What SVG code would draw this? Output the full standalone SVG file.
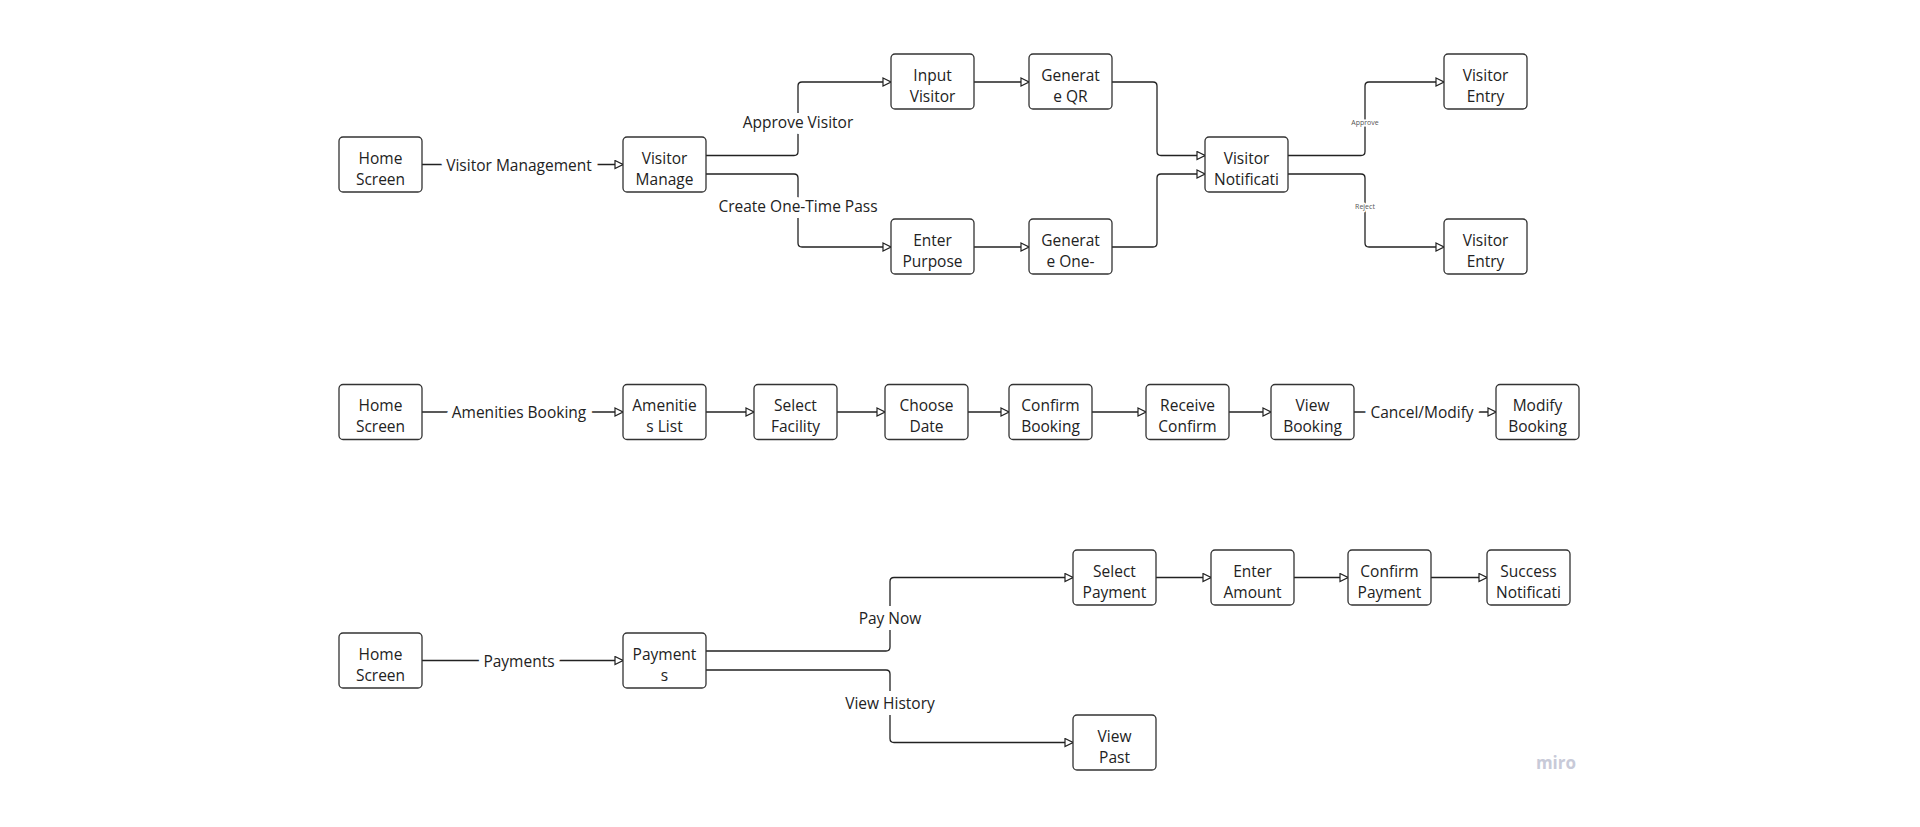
<svg xmlns="http://www.w3.org/2000/svg" width="1920" height="827" viewBox="0 0 1920 827">
<style>
.n rect{fill:#fff;stroke:#333;stroke-width:1.3}
text{font-family:"Open Sans","Noto Sans",sans-serif;fill:#222}
.n text{font-size:15.5px;text-anchor:middle;dominant-baseline:central;transform:translateY(3.5px)}
.c path{fill:none;stroke:#222;stroke-width:1.3;marker-end:url(#a)}
.l{font-size:15.5px;text-anchor:middle;dominant-baseline:central;stroke:#fff;stroke-width:12;paint-order:stroke}
.s{font-size:7px;text-anchor:middle;dominant-baseline:central;stroke:#fff;stroke-width:3;paint-order:stroke;fill:#555}
</style>
<defs>
<marker id="a" markerWidth="10" markerHeight="10" refX="9" refY="5" orient="auto" markerUnits="userSpaceOnUse">
<path d="M1,1 L9,5 L1,9 Z" fill="#fff" stroke="#222" stroke-width="1.2"/>
</marker>
</defs>
<rect width="1920" height="827" fill="#fff"/>
<g class="c">
<path d="M422,164.5 H623"/>
<path d="M706,155.5 H794 Q798,155.5 798,151.5 V86 Q798,82 802,82 H891"/>
<path d="M706,174 H794 Q798,174 798,178 V243 Q798,247 802,247 H891"/>
<path d="M974,82 H1029"/>
<path d="M974,247 H1029"/>
<path d="M1112,82 H1153 Q1157,82 1157,86 V151.5 Q1157,155.5 1161,155.5 H1205"/>
<path d="M1112,247 H1153 Q1157,247 1157,243 V178 Q1157,174 1161,174 H1205"/>
<path d="M1288,155.5 H1361 Q1365,155.5 1365,151.5 V86 Q1365,82 1369,82 H1444"/>
<path d="M1288,174 H1361 Q1365,174 1365,178 V243 Q1365,247 1369,247 H1444"/>
<path d="M422,412 H623"/>
<path d="M706,412 H754"/>
<path d="M837,412 H885"/>
<path d="M968,412 H1009"/>
<path d="M1092,412 H1146"/>
<path d="M1229,412 H1271"/>
<path d="M1354,412 H1496"/>
<path d="M422,660.5 H623"/>
<path d="M706,651 H886 Q890,651 890,647 V581.5 Q890,577.5 894,577.5 H1073"/>
<path d="M706,670 H886 Q890,670 890,674 V738.5 Q890,742.5 894,742.5 H1073"/>
<path d="M1156,577.5 H1211"/>
<path d="M1294,577.5 H1348"/>
<path d="M1431,577.5 H1487"/>
</g>
<g>
<text class="l" x="519" y="164.5">Visitor Management</text>
<text class="l" x="798" y="122">Approve Visitor</text>
<text class="l" x="798" y="206">Create One-Time Pass</text>
<text class="s" x="1365" y="122">Approve</text>
<text class="s" x="1365" y="206">Reject</text>
<text class="l" x="519" y="412">Amenities Booking</text>
<text class="l" x="1422" y="412">Cancel/Modify</text>
<text class="l" x="519" y="660.5">Payments</text>
<text class="l" x="890" y="618">Pay Now</text>
<text class="l" x="890" y="703">View History</text>
</g>
<g id="r1n1" class="n"><rect x="339" y="137" width="83" height="55" rx="4"/><text x="380.5" y="154">Home</text><text x="380.5" y="175">Screen</text></g>
<g id="r1n2" class="n"><rect x="623" y="137" width="83" height="55" rx="4"/><text x="664.5" y="154">Visitor</text><text x="664.5" y="175">Manage</text></g>
<g id="r1n3" class="n"><rect x="891" y="54" width="83" height="55" rx="4"/><text x="932.5" y="71">Input</text><text x="932.5" y="92">Visitor</text></g>
<g id="r1n4" class="n"><rect x="1029" y="54" width="83" height="55" rx="4"/><text x="1070.5" y="71">Generat</text><text x="1070.5" y="92">e QR</text></g>
<g id="r1n5" class="n"><rect x="891" y="219" width="83" height="55" rx="4"/><text x="932.5" y="236">Enter</text><text x="932.5" y="257">Purpose</text></g>
<g id="r1n6" class="n"><rect x="1029" y="219" width="83" height="55" rx="4"/><text x="1070.5" y="236">Generat</text><text x="1070.5" y="257">e One-</text></g>
<g id="r1n7" class="n"><rect x="1205" y="137" width="83" height="55" rx="4"/><text x="1246.5" y="154">Visitor</text><text x="1246.5" y="175">Notificati</text></g>
<g id="r1n8" class="n"><rect x="1444" y="54" width="83" height="55" rx="4"/><text x="1485.5" y="71">Visitor</text><text x="1485.5" y="92">Entry</text></g>
<g id="r1n9" class="n"><rect x="1444" y="219" width="83" height="55" rx="4"/><text x="1485.5" y="236">Visitor</text><text x="1485.5" y="257">Entry</text></g>
<g id="r2n1" class="n"><rect x="339" y="384.5" width="83" height="55" rx="4"/><text x="380.5" y="401.5">Home</text><text x="380.5" y="422.5">Screen</text></g>
<g id="r2n2" class="n"><rect x="623" y="384.5" width="83" height="55" rx="4"/><text x="664.5" y="401.5">Amenitie</text><text x="664.5" y="422.5">s List</text></g>
<g id="r2n3" class="n"><rect x="754" y="384.5" width="83" height="55" rx="4"/><text x="795.5" y="401.5">Select</text><text x="795.5" y="422.5">Facility</text></g>
<g id="r2n4" class="n"><rect x="885" y="384.5" width="83" height="55" rx="4"/><text x="926.5" y="401.5">Choose</text><text x="926.5" y="422.5">Date</text></g>
<g id="r2n5" class="n"><rect x="1009" y="384.5" width="83" height="55" rx="4"/><text x="1050.5" y="401.5">Confirm</text><text x="1050.5" y="422.5">Booking</text></g>
<g id="r2n6" class="n"><rect x="1146" y="384.5" width="83" height="55" rx="4"/><text x="1187.5" y="401.5">Receive</text><text x="1187.5" y="422.5">Confirm</text></g>
<g id="r2n7" class="n"><rect x="1271" y="384.5" width="83" height="55" rx="4"/><text x="1312.5" y="401.5">View</text><text x="1312.5" y="422.5">Booking</text></g>
<g id="r2n8" class="n"><rect x="1496" y="384.5" width="83" height="55" rx="4"/><text x="1537.5" y="401.5">Modify</text><text x="1537.5" y="422.5">Booking</text></g>
<g id="r3n1" class="n"><rect x="339" y="633" width="83" height="55" rx="4"/><text x="380.5" y="650">Home</text><text x="380.5" y="671">Screen</text></g>
<g id="r3n2" class="n"><rect x="623" y="633" width="83" height="55" rx="4"/><text x="664.5" y="650">Payment</text><text x="664.5" y="671">s</text></g>
<g id="r3n3" class="n"><rect x="1073" y="550" width="83" height="55" rx="4"/><text x="1114.5" y="567">Select</text><text x="1114.5" y="588">Payment</text></g>
<g id="r3n4" class="n"><rect x="1211" y="550" width="83" height="55" rx="4"/><text x="1252.5" y="567">Enter</text><text x="1252.5" y="588">Amount</text></g>
<g id="r3n5" class="n"><rect x="1348" y="550" width="83" height="55" rx="4"/><text x="1389.5" y="567">Confirm</text><text x="1389.5" y="588">Payment</text></g>
<g id="r3n6" class="n"><rect x="1487" y="550" width="83" height="55" rx="4"/><text x="1528.5" y="567">Success</text><text x="1528.5" y="588">Notificati</text></g>
<g id="r3n7" class="n"><rect x="1073" y="715" width="83" height="55" rx="4"/><text x="1114.5" y="732">View</text><text x="1114.5" y="753">Past</text></g>
<text x="1556" y="762" font-size="17" font-weight="bold" text-anchor="middle" dominant-baseline="central" style="fill:#c8cad8">miro</text>
</svg>
